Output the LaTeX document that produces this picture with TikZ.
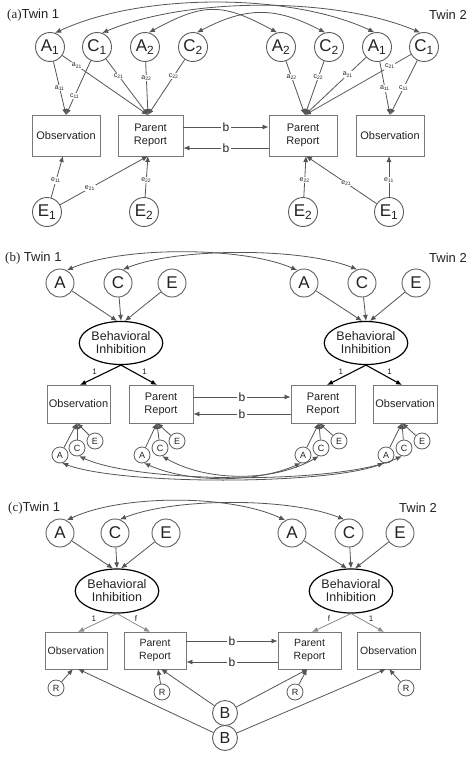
\documentclass[tikz,border=0pt]{standalone}
\usepackage{fontspec}
\setmainfont{Liberation Sans}
\newfontfamily\serifont{Liberation Serif}
\usetikzlibrary{arrows.meta,shapes.geometric}
\definecolor{lc}{RGB}{85,85,85}
\definecolor{lgc}{RGB}{140,140,140}
\definecolor{cc}{RGB}{95,95,95}
\definecolor{bc}{RGB}{120,120,120}
\definecolor{tc}{RGB}{35,35,35}
\begin{document}
\begin{tikzpicture}[x=1pt,y=-1pt,
 lat/.style={circle,draw=cc,line width=0.9pt,minimum size=29pt,inner sep=0pt,text=tc,font=\fontsize{17}{17}\selectfont},
 slat/.style={circle,draw=cc,line width=0.8pt,minimum size=16pt,inner sep=0pt,text=tc,font=\fontsize{9}{9}\selectfont},
 mbox/.style={rectangle,draw=bc,line width=0.9pt,inner sep=0pt,align=center,text=tc,font=\fontsize{11}{13}\selectfont},
 bi/.style={ellipse,draw=black,line width=1.2pt,inner sep=0pt,align=center,text=tc,font=\fontsize{12.5}{13}\selectfont},
 arr/.style={draw=lc,line width=0.8pt,-{Latex[length=6pt,width=5pt]}},
 garr/.style={draw=lgc,line width=0.8pt,-{Latex[length=6pt,width=5pt]}},
 barr/.style={draw=black,line width=1.1pt,-{Latex[length=6pt,width=5pt]}},
 dbl/.style={draw=lc,line width=0.8pt,{Latex[length=6pt,width=5pt]}-{Latex[length=6pt,width=5pt]}},
 lab/.style={fill=white,inner sep=0.8pt,text=tc,font=\fontsize{7}{7}\selectfont},
 blab/.style={fill=white,inner sep=2pt,text=tc,font=\fontsize{12}{12}\selectfont},
 one/.style={text=tc,inner sep=1pt,font=\fontsize{8}{8}\selectfont},
 ttl/.style={text=tc,inner sep=0pt,font=\fontsize{13}{13}\selectfont},
]
\useasboundingbox[fill=white] (0,0) rectangle (474,760);

%% ================= Panel (a)
\node[ttl,anchor=west] (ta1) at (7,15) {{\serifont(a)}Twin 1};
\node[ttl,anchor=east] (ta2) at (467,15) {Twin 2};
\node[lat] (A1L) at (50,47) {A\textsubscript{1}};
\node[lat] (C1L) at (97,47) {C\textsubscript{1}};
\node[lat] (A2L) at (145,47) {A\textsubscript{2}};
\node[lat] (C2L) at (193,47) {C\textsubscript{2}};
\node[lat] (A2R) at (281,47) {A\textsubscript{2}};
\node[lat] (C2R) at (329,47) {C\textsubscript{2}};
\node[lat] (A1R) at (377,47) {A\textsubscript{1}};
\node[lat] (C1R) at (424,47) {C\textsubscript{1}};
\node[mbox,minimum width=68pt,minimum height=41pt] (ObsL) at (66,135.5) {Observation};
\node[mbox,minimum width=65pt,minimum height=41pt] (PRL) at (150.5,135.5) {Parent\\Report};
\node[mbox,minimum width=68pt,minimum height=41pt] (PRR) at (303,135.5) {Parent\\Report};
\node[mbox,minimum width=68pt,minimum height=41pt] (ObsR) at (390,135.5) {Observation};
\node[lat] (E1L) at (47,212) {E\textsubscript{1}};
\node[lat] (E2L) at (144,212) {E\textsubscript{2}};
\node[lat] (E2R) at (303,212) {E\textsubscript{2}};
\node[lat] (E1R) at (389,212) {E\textsubscript{1}};
\coordinate (oLt) at (66,115);
\coordinate (pLt) at (148,115);
\coordinate (pRt) at (305,115);
\coordinate (oRt) at (390,115);
\coordinate (oLb) at (63,156);
\coordinate (pLb) at (148,156);
\coordinate (pRb) at (306,156);
\coordinate (oRb) at (389,156);

\draw[dbl] (A1L.70) .. controls +(85,-40) and +(-85,-40) .. (A1R.100);
\draw[dbl] (C1L.70) .. controls +(85,-36) and +(-85,-36) .. (C1R.105);
\draw[dbl] (A2L.75) .. controls +(55,-30) and +(-55,-30) .. (A2R.105);
\draw[dbl] (C2L.75) .. controls +(50,-26) and +(-50,-26) .. (C2R.105);

\draw[arr] (A1L) -- node[lab,pos=.5]{a\textsubscript{11}} (oLt);
\draw[arr] (A1L) -- node[lab,pos=.17]{a\textsubscript{21}} (pLt);
\draw[arr] (C1L) -- node[lab,pos=.65]{c\textsubscript{11}} (oLt);
\draw[arr] (C1L) -- node[lab,pos=.3]{c\textsubscript{21}} (pLt);
\draw[arr] (A2L) -- node[lab,pos=.3]{a\textsubscript{22}} (pLt);
\draw[arr] (C2L) -- node[lab,pos=.3]{c\textsubscript{22}} (pLt);
\draw[arr] (A2R) -- node[lab,pos=.3]{a\textsubscript{22}} (pRt);
\draw[arr] (C2R) -- node[lab,pos=.3]{c\textsubscript{22}} (pRt);
\draw[arr] (A1R) -- node[lab,pos=.3]{a\textsubscript{21}} (pRt);
\draw[arr] (A1R) -- node[lab,pos=.5]{a\textsubscript{11}} (oRt);
\draw[arr] (C1R) -- node[lab,pos=.2]{c\textsubscript{21}} (pRt);
\draw[arr] (C1R) -- node[lab,pos=.5]{c\textsubscript{11}} (oRt);

\draw[arr] (E1L) -- node[lab,pos=.41]{e\textsubscript{11}} (oLb);
\draw[arr] (E1L) -- node[lab,pos=.34]{e\textsubscript{21}} (pLb);
\draw[arr] (E2L) -- node[lab,pos=.41]{e\textsubscript{22}} (pLb);
\draw[arr] (E2R) -- node[lab,pos=.41]{e\textsubscript{22}} (pRb);
\draw[arr] (E1R) -- node[lab,pos=.43]{e\textsubscript{21}} (pRb);
\draw[arr] (E1R) -- node[lab,pos=.41]{e\textsubscript{11}} (oRb);

\draw[arr] ([yshift=8.5pt]PRL.east) -- node[blab]{b} ([yshift=8.5pt]PRR.west);
\draw[arr] ([yshift=-12.5pt]PRR.west) -- node[blab]{b} ([yshift=-12.5pt]PRL.east);

%% ================= Panel (b)
\node[ttl,anchor=west] (tb1) at (5,258) {{\serifont(b)} Twin 1};
\node[ttl,anchor=east] (tb2) at (467,258) {Twin 2};
\node[lat,minimum size=28pt] (Ab1) at (60,283) {A};
\node[lat,minimum size=28pt] (Cb1) at (118,283) {C};
\node[lat,minimum size=28pt] (Eb1) at (172,283) {E};
\node[lat,minimum size=28pt] (Ab2) at (304,283) {A};
\node[lat,minimum size=28pt] (Cb2) at (362,283) {C};
\node[lat,minimum size=28pt] (Eb2) at (416,283) {E};
\node[bi,minimum width=66pt,minimum height=43pt] (BIb1) at (121,343) {Behavioral\\Inhibition};
\node[bi,minimum width=66pt,minimum height=43pt] (BIb2) at (366,343) {Behavioral\\Inhibition};
\node[mbox,minimum width=63pt,minimum height=38pt] (ObsB1) at (78.5,404) {Observation};
\node[mbox,minimum width=64pt,minimum height=38pt] (PRB1) at (161,404) {Parent\\Report};
\node[mbox,minimum width=64pt,minimum height=38pt] (PRB2) at (323,404) {Parent\\Report};
\node[mbox,minimum width=64pt,minimum height=38pt] (ObsB2) at (405,404) {Observation};
\node[slat] (sAo1) at (60,455) {A};
\node[slat] (sCo1) at (77,448) {C};
\node[slat] (sEo1) at (95,441) {E};
\node[slat] (sAp1) at (142,455) {A};
\node[slat] (sCp1) at (160,448) {C};
\node[slat] (sEp1) at (177,441) {E};
\node[slat] (sAp2) at (303,455) {A};
\node[slat] (sCp2) at (321,448) {C};
\node[slat] (sEp2) at (339,441) {E};
\node[slat] (sAo2) at (386,455) {A};
\node[slat] (sCo2) at (404,448) {C};
\node[slat] (sEo2) at (422,441) {E};
\coordinate (ob1t) at (80,385);
\coordinate (pb1t) at (157,385);
\coordinate (pb2t) at (327,385);
\coordinate (ob2t) at (402,385);
\coordinate (ob1b) at (77,423);
\coordinate (pb1b) at (157,423);
\coordinate (pb2b) at (319,423);
\coordinate (ob2b) at (402,423);

\draw[dbl] (Ab1.62) .. controls +(55,-24) and +(-55,-24) .. (Ab2.118);
\draw[dbl] (Cb1.70) .. controls +(55,-22) and +(-55,-22) .. (Cb2.110);

\draw[arr] (Ab1) -- (BIb1.100);
\draw[arr] (Cb1) -- (BIb1.north);
\draw[arr] (Eb1) -- (BIb1.80);
\draw[arr] (Ab2) -- (BIb2.100);
\draw[arr] (Cb2) -- (BIb2.north);
\draw[arr] (Eb2) -- (BIb2.80);
\draw[barr] (BIb1.south) -- node[one,pos=.55,above left]{1} (ob1t);
\draw[barr] (BIb1.south) -- node[one,pos=.55,above right]{1} (pb1t);
\draw[barr] (BIb2.south) -- node[one,pos=.55,above left]{1} (pb2t);
\draw[barr] (BIb2.south) -- node[one,pos=.55,above right]{1} (ob2t);

\draw[arr] ([yshift=7pt]PRB1.east) -- node[blab]{b} ([yshift=7pt]PRB2.west);
\draw[arr] ([yshift=-10pt]PRB2.west) -- node[blab]{b} ([yshift=-10pt]PRB1.east);

\foreach \n/\t in {sAo1/ob1b,sCo1/ob1b,sEo1/ob1b,sAp1/pb1b,sCp1/pb1b,sEp1/pb1b,sAp2/pb2b,sCp2/pb2b,sEp2/pb2b,sAo2/ob2b,sCo2/ob2b,sEo2/ob2b}
  \draw[arr] (\n) -- (\t);

\draw[dbl] (sAo1.-75) .. controls +(60,22) and +(-60,22) .. (sAo2.-105);
\draw[dbl] (sCo1.-75) .. controls +(60,28) and +(-60,28) .. (sCo2.-105);
\draw[dbl] (sAp1.-75) .. controls +(45,20) and +(-45,20) .. (sAp2.-105);
\draw[dbl] (sCp1.-75) .. controls +(45,26) and +(-45,26) .. (sCp2.-105);

%% ================= Panel (c)
\node[ttl,anchor=west] (tc1) at (8,508) {{\serifont(c)}Twin 1};
\node[ttl,anchor=east] (tc2) at (437,508) {Twin 2};
\node[lat,minimum size=28pt] (Ac1) at (60,533) {A};
\node[lat,minimum size=28pt] (Cc1) at (115,533) {C};
\node[lat,minimum size=28pt] (Ec1) at (166,533) {E};
\node[lat,minimum size=28pt] (Ac2) at (292,533) {A};
\node[lat,minimum size=28pt] (Cc2) at (349,533) {C};
\node[lat,minimum size=28pt] (Ec2) at (400,533) {E};
\node[bi,minimum width=62pt,minimum height=44pt] (BIc1) at (117,591) {Behavioral\\Inhibition};
\node[bi,minimum width=62pt,minimum height=44pt] (BIc2) at (351,591) {Behavioral\\Inhibition};
\node[mbox,minimum width=62pt,minimum height=37pt,font=\fontsize{10.5}{12.5}\selectfont] (ObsC1) at (76,650.5) {Observation};
\node[mbox,minimum width=62pt,minimum height=37pt,font=\fontsize{10.5}{12.5}\selectfont] (PRC1) at (155,650.5) {Parent\\Report};
\node[mbox,minimum width=63pt,minimum height=37pt,font=\fontsize{10.5}{12.5}\selectfont] (PRC2) at (309.5,650.5) {Parent\\Report};
\node[mbox,minimum width=63pt,minimum height=37pt,font=\fontsize{10.5}{12.5}\selectfont] (ObsC2) at (388.5,650.5) {Observation};
\node[slat] (RO1) at (56,688) {R};
\node[slat] (RP1) at (162,692) {R};
\node[slat] (RP2) at (295,692) {R};
\node[slat] (RO2) at (406,688) {R};
\node[lat,minimum size=25pt,font=\fontsize{16}{16}\selectfont] (B1) at (225,713) {B};
\node[lat,minimum size=25pt,font=\fontsize{16}{16}\selectfont] (B2) at (225,738) {B};
\coordinate (oc1t) at (78,632);
\coordinate (pc1t) at (150,632);
\coordinate (pc2t) at (312,632);
\coordinate (oc2t) at (384,632);
\coordinate (oc1r) at (73,669);
\coordinate (pc1r) at (158,669);
\coordinate (pc2r) at (307,669);
\coordinate (oc2r) at (389,669);
\coordinate (oc1b) at (78,669);
\coordinate (pc1b) at (161,669);
\coordinate (pc2b) at (308,669);
\coordinate (oc2b) at (386,669);

\draw[dbl] (Ac1.62) .. controls +(55,-26) and +(-55,-26) .. (Ac2.118);
\draw[dbl] (Cc1.70) .. controls +(55,-22) and +(-55,-22) .. (Cc2.110);

\draw[arr] (Ac1) -- (BIc1.100);
\draw[arr] (Cc1) -- (BIc1.north);
\draw[arr] (Ec1) -- (BIc1.80);
\draw[arr] (Ac2) -- (BIc2.100);
\draw[arr] (Cc2) -- (BIc2.north);
\draw[arr] (Ec2) -- (BIc2.80);
\draw[garr] (BIc1.south) -- node[one,pos=.5,above left]{1} (oc1t);
\draw[garr] (BIc1.south) -- node[one,pos=.5,above right]{f} (pc1t);
\draw[garr] (BIc2.south) -- node[one,pos=.5,above left]{f} (pc2t);
\draw[garr] (BIc2.south) -- node[one,pos=.5,above right]{1} (oc2t);

\draw[arr] ([yshift=9.5pt]PRC1.east) -- node[blab]{b} ([yshift=9.5pt]PRC2.west);
\draw[arr] ([yshift=-11.5pt]PRC2.west) -- node[blab]{b} ([yshift=-11.5pt]PRC1.east);

\draw[arr] (RO1) -- (oc1r);
\draw[arr] (RP1) -- (pc1r);
\draw[arr] (RP2) -- (pc2r);
\draw[arr] (RO2) -- (oc2r);
\draw[arr] (B1) -- (pc1b);
\draw[arr] (B1) -- (pc2b);
\draw[arr] (B2) -- (oc1b);
\draw[arr] (B2) -- (oc2b);
\end{tikzpicture}
\end{document}
